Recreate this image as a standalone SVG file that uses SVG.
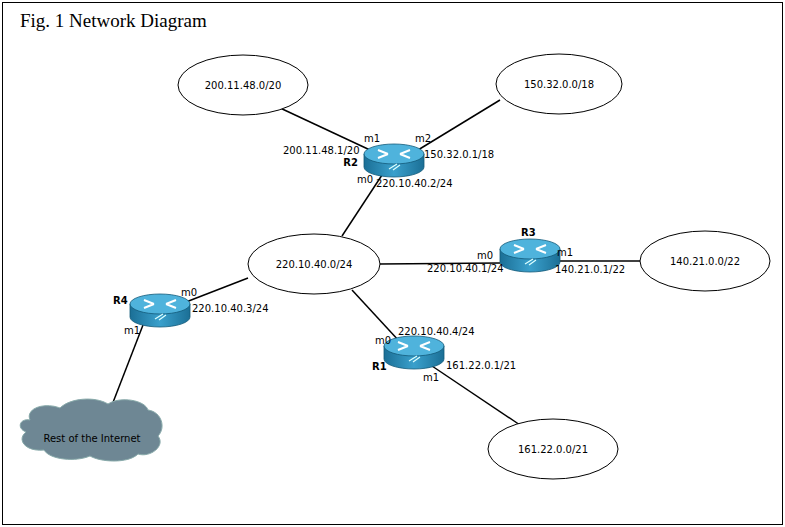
<svg xmlns="http://www.w3.org/2000/svg" width="785" height="527" viewBox="0 0 785 527">
<defs>
<linearGradient id="side" x1="0" x2="1" y1="0" y2="0"><stop offset="0" stop-color="#1b6f96"/><stop offset="0.5" stop-color="#3aa0cc"/><stop offset="1" stop-color="#1b6f96"/></linearGradient>
<g id="router">
<path d="M-30,-6 L-30,7 A30,10 0 0 0 30,7 L30,-6 Z" fill="url(#side)" stroke="#135a7a" stroke-width="0.8"/>
<ellipse cx="0" cy="-6" rx="30" ry="10" fill="#4fb3dc" stroke="#135a7a" stroke-width="0.8"/>
<path d="M-16,-10 L-6,-6 M-16,-2 L-6,-6 M16,-10 L6,-6 M16,-2 L6,-6" stroke="#fff" stroke-width="2" fill="none"/>
<path d="M-5,9 L3,4 M-1,10 L6,5" stroke="#dff" stroke-width="1.2"/>
</g>
</defs>
<style>
.n{fill:#fff;stroke:#000;stroke-width:1}
.t{font-family:"DejaVu Sans",sans-serif;font-size:10px;fill:#000}
.b{font-family:"DejaVu Sans",sans-serif;font-size:10px;font-weight:bold;fill:#000}
.c line{stroke:#000;stroke-width:1.5}
</style>
<rect x="2.5" y="2.5" width="780" height="522" fill="#fff" stroke="#000"/>
<text x="20" y="27" font-family="Liberation Serif, serif" font-size="19">Fig. 1 Network Diagram</text>
<g class="c">
<line x1="278" y1="107" x2="370" y2="150"/>
<line x1="500" y1="100" x2="418" y2="150"/>
<line x1="384" y1="172" x2="342" y2="236"/>
<line x1="380" y1="264" x2="500" y2="263"/>
<line x1="560" y1="261" x2="640" y2="261"/>
<line x1="248" y1="278" x2="186" y2="302"/>
<line x1="352" y1="290" x2="400" y2="342"/>
<line x1="432" y1="366" x2="520" y2="425"/>
<line x1="143" y1="325" x2="112" y2="405"/>
</g>
<g id="net1"><ellipse class="n" cx="243" cy="85" rx="65" ry="30"/><text class="t" x="243" y="89" text-anchor="middle">200.11.48.0/20</text></g>
<g id="net2"><ellipse class="n" cx="559" cy="84" rx="63" ry="30"/><text class="t" x="559" y="88" text-anchor="middle">150.32.0.0/18</text></g>
<g id="net3"><ellipse class="n" cx="314" cy="264" rx="66" ry="30"/><text class="t" x="314" y="268" text-anchor="middle">220.10.40.0/24</text></g>
<g id="net4"><ellipse class="n" cx="705" cy="261" rx="65" ry="30"/><text class="t" x="705" y="265" text-anchor="middle">140.21.0.0/22</text></g>
<g id="net5"><ellipse class="n" cx="553" cy="449" rx="65" ry="30"/><text class="t" x="553" y="453" text-anchor="middle">161.22.0.0/21</text></g>
<g id="cloud">
<path d="M30,420 C25,408 45,402 60,408 C70,398 95,396 108,404 C120,396 145,400 148,410 C162,412 166,428 158,436 C166,446 150,458 138,454 C128,464 100,462 90,456 C76,462 50,460 44,450 C26,452 16,440 26,432 C16,428 20,418 30,420 Z" fill="#6e8794" stroke="#8aa" stroke-width="1"/>
<text class="t" x="92" y="442" text-anchor="middle" font-size="9.5" fill="#222">Rest of the Internet</text>
</g>
<g id="R2"><use href="#router" x="394" y="160"/><text class="b" x="358" y="166" text-anchor="end">R2</text>
<text class="t" x="364" y="142">m1</text><text class="t" x="415" y="142">m2</text><text class="t" x="283" y="154">200.11.48.1/20</text><text class="t" x="424" y="158">150.32.0.1/18</text><text class="t" x="357" y="183">m0</text><text class="t" x="376" y="187">220.10.40.2/24</text></g>
<g id="R3"><use href="#router" x="530" y="255"/><text class="b" x="521" y="236">R3</text>
<text class="t" x="477" y="259">m0</text><text class="t" x="557" y="256">m1</text><text class="t" x="427" y="272">220.10.40.1/24</text><text class="t" x="555" y="273">140.21.0.1/22</text></g>
<g id="R4"><use href="#router" x="160" y="310"/><text class="b" x="113" y="304">R4</text>
<text class="t" x="181" y="296">m0</text><text class="t" x="192" y="312">220.10.40.3/24</text><text class="t" x="124" y="334">m1</text></g>
<g id="R1"><use href="#router" x="414" y="352"/><text class="b" x="372" y="370">R1</text>
<text class="t" x="375" y="344">m0</text><text class="t" x="398" y="335">220.10.40.4/24</text><text class="t" x="446" y="369">161.22.0.1/21</text><text class="t" x="423" y="381">m1</text></g>
</svg>
